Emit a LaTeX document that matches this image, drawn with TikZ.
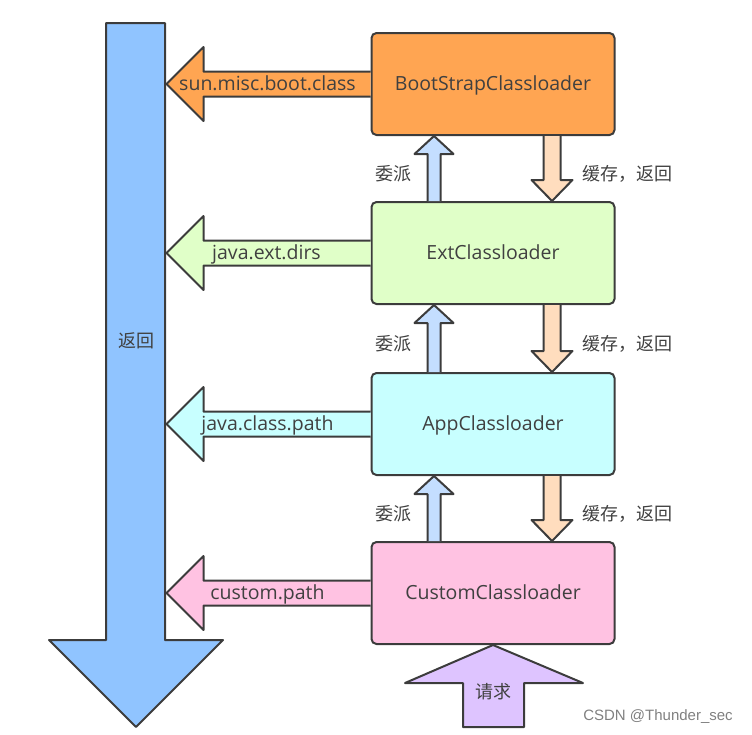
\documentclass[tikz,border=0pt]{standalone}
\usepackage{fontspec}
\setmainfont{Open Sans}
\newfontfamily\cjk{Noto Sans CJK SC}
\newfontfamily\markfont{Liberation Sans}
\usetikzlibrary{calc}

\definecolor{edgegray}{HTML}{3C3C3C}
\definecolor{textgray}{HTML}{404040}
\definecolor{retblue}{HTML}{90C4FF}
\definecolor{bootfill}{HTML}{FFA552}
\definecolor{extfill}{HTML}{E0FFC8}
\definecolor{appfill}{HTML}{C8FFFF}
\definecolor{customfill}{HTML}{FFC2E2}
\definecolor{reqfill}{HTML}{DEC4FF}
\definecolor{upfill}{HTML}{C4DEFF}
\definecolor{downfill}{HTML}{FFDDBE}

\tikzset{
  loader/.style={draw=edgegray, line width=2pt, rounded corners=5pt,
    minimum width=243pt, minimum height=102pt, text=textgray, text height=17.5pt, text depth=4pt,
    font=\fontsize{19.5}{21}\selectfont},
  blockarrow/.style={draw=edgegray, line width=2pt, line join=round},
  arrowlabel/.style={text=textgray, inner sep=0pt, text height=17.5pt, text depth=4pt,
    font=\fontsize{19.5}{21}\selectfont},
  cjklabel/.style={text=textgray, inner sep=0pt, font=\cjk\fontsize{18}{20}\selectfont}
}

\begin{document}
\begin{tikzpicture}[x=1pt,y=-1pt]
\useasboundingbox (0,0) rectangle (752,734);

% The big return arrow on the left
\path (136,23) coordinate (rettop);
\path (136,640) coordinate (retbase);
\path (136,727) coordinate (rettip);
\draw[blockarrow, fill=retblue] ($(rettop)+(-30,0)$) -- ($(rettop)+(29,0)$) -- ($(retbase)+(29,0)$)
  -- ($(retbase)+(87,0)$) -- (rettip) -- ($(retbase)+(-87,0)$) -- ($(retbase)+(-30,0)$) -- cycle;
\node[cjklabel] (ret) at (136,341) {返回};

% The class loaders
\node[loader, fill=bootfill] (boot) at (493,84) {BootStrapClassloader};
\node[loader, fill=extfill] (ext) at (493,253) {ExtClassloader};
\node[loader, fill=appfill] (app) at (493,424) {AppClassloader};
\node[loader, fill=customfill] (custom) at (493,593) {CustomClassloader};

% Search paths, pointing into the return arrow
\foreach \ldr/\col in {boot/bootfill, ext/extfill, app/appfill, custom/customfill}
  \draw[blockarrow, fill=\col] (\ldr.west) ++(0,-12.5) -- ++(-167,0) -- ++(0,-24.5) -- ++(-37,37)
    -- ++(37,37) -- ++(0,-24.5) -- ++(167,0);
\node[arrowlabel] (bootpath) at ($(boot.west)+(-103,0)$) {sun.misc.boot.class};
\node[arrowlabel] (extpath) at ($(ext.west)+(-104,0)$) {java.ext.dirs};
\node[arrowlabel] (apppath) at ($(app.west)+(-103,0)$) {java.class.path};
\node[arrowlabel] (custompath) at ($(custom.west)+(-103,0)$) {custom.path};

% Delegation up, caching and returning down
\foreach \up/\low in {boot/ext, ext/app, app/custom} {
  \draw[blockarrow, fill=upfill] ($(\low.north west)+(57,0)$) -- ($(\up.south west)+(57,18)$) -- ++(-13,0)
    -- ($(\up.south west)+(63.5,0)$) -- ($(\up.south west)+(83,18)$) -- ++(-13,0) -- ($(\low.north west)+(70,0)$);
  \draw[blockarrow, fill=downfill] ($(\up.south west)+(173,0)$) -- ($(\low.north west)+(173,-21)$) -- ++(-12,0)
    -- ($(\low.north west)+(181.5,0)$) -- ($(\low.north west)+(202,-21)$) -- ++(-12,0) -- ($(\up.south west)+(190,0)$);
  \node[cjklabel] (\up-delegate) at ($($(\low.north west)!.5!(\up.south west)$)+(23,5)$) {委派};
  \node[cjklabel] (\low-return) at ($($(\low.north west)!.5!(\up.south west)$)+(257,5)$) {缓存，返回};
}

% The request coming in from below
\draw[blockarrow, fill=reqfill] ($(custom.south)+(-30,82)$) -- ++(0,-44) -- ++(-58,0) -- (custom.south)
  -- ($(custom.south)+(90,38)$) -- ++(-59,0) -- ++(0,44) -- cycle;
\node[cjklabel] (request) at ($(custom.south)+(0,47)$) {请求};

\node[text=gray, inner sep=0pt, font=\markfont\fontsize{15}{17}\selectfont] (mark) at (658,717) {CSDN @Thunder\_sec};
\end{tikzpicture}
\end{document}
